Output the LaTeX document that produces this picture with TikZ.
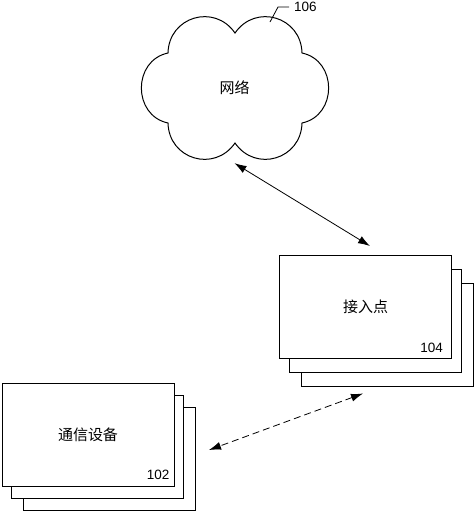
\documentclass[tikz,border=0pt]{standalone}
\usepackage{fontspec}
\setmainfont{Liberation Sans}
\newfontfamily\cjk{Noto Sans CJK SC}
\usetikzlibrary{arrows.meta,positioning}

\begin{document}
\begin{tikzpicture}[x=1pt,y=1pt,
  sheet/.style={draw,line width=1pt,fill=white,minimum width=172pt,
    minimum height=103pt,inner sep=0pt,font=\cjk\fontsize{15}{18}\selectfont},
  net/.style={minimum width=189pt,minimum height=140pt,
    font=\cjk\fontsize{15}{18}\selectfont},
  puff/.style={bend left=#1,looseness=1.33},
  numlabel/.style={inner sep=0pt,font=\fontsize{13.5}{16}\selectfont},
  link/.style={{Latex[length=12pt,width=8pt]}-{Latex[length=12pt,width=8pt]},line width=.8pt},
  wlink/.style={link,dash pattern=on 7pt off 4pt}]
\useasboundingbox (0,0) rectangle (474,-515);
% network
\node[net](cloud) at (234.5,-88){网络};
\draw[line width=1pt](168,-53) to[puff=72] (235,-33) to[puff=72] (302,-53)
  to[puff=78] (302,-123) to[puff=72] (235,-143) to[puff=72] (168,-123)
  to[puff=78] cycle;
\node[numlabel,anchor=west](n106) at (294,-7){106};
\coordinate (c106) at (270,-22);
\draw[line width=.8pt](c106)--(278,-7)--([xshift=-5pt]n106.west);
% access point
\node[sheet](ap3) at (387,-334.5){};
\node[sheet](ap2) at (375,-321){};
\node[sheet](ap) at (365.5,-307){接入点};
\node[numlabel,above left=6pt and 9pt of ap.south east](n104){104};
% communication device
\node[sheet](cd3) at (109.5,-458.5){};
\node[sheet](cd2) at (97.5,-446.5){};
\node[sheet](cd) at (88,-434.5){通信设备};
\node[numlabel,above left=7pt and 5pt of cd.south east](n102){102};
\draw[link]([yshift=-5pt]cloud.south)--([xshift=4.5pt,yshift=9pt]ap.north);
\draw[wlink]([shift={(-24pt,-7pt)}]ap3.south)--([shift={(13pt,8.5pt)}]cd3.east);
\end{tikzpicture}
\end{document}
